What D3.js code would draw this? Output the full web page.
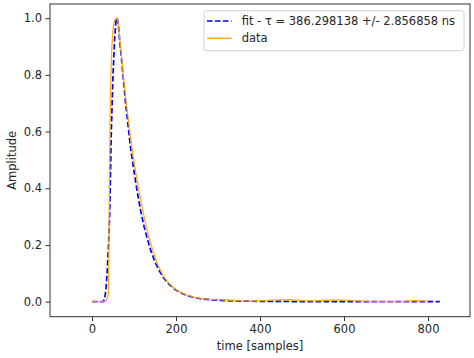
<!DOCTYPE html>
<html>
<head>
<meta charset="utf-8">
<script src="https://cdn.jsdelivr.net/npm/d3@7"></script>
<style>
  html, body { margin: 0; padding: 0; background: #fff; }
  svg { display: block; font-family: "DejaVu Sans", sans-serif; }
</style>
</head>
<body>
<svg id="chart" width="474" height="358"></svg>
<script>
// ---- data ----
const fitX = [0, 10, 20, 27, 30, 33, 36, 39, 42, 46, 50, 54, 57, 60, 63, 66, 70, 75, 80, 86, 92, 100, 108, 116, 124, 132, 140, 150, 160, 170, 180, 195, 210, 225, 240, 260, 280, 300, 330, 360, 400, 450, 500, 560, 620, 680, 740, 800, 828];
const fitY = [0, 0, 0, 0, 0.01, 0.04, 0.1, 0.19, 0.3, 0.6, 0.8, 0.93, 0.99, 1.0, 0.97, 0.92, 0.86, 0.78, 0.70, 0.62, 0.54, 0.46, 0.385, 0.32, 0.265, 0.22, 0.18, 0.14, 0.11, 0.085, 0.066, 0.046, 0.032, 0.022, 0.016, 0.010, 0.007, 0.005, 0.003, 0.002, 0.001, 0.001, 0, 0, 0, 0, 0, 0, 0];

const dataX = [0, 10, 20, 31, 35, 38, 39, 40, 41, 42, 43, 44, 45, 47, 49, 51, 54, 57, 59, 62, 66, 70, 75, 80, 85, 90, 95, 100, 106, 112, 118, 124, 130, 138, 146, 154, 162, 170, 180, 190, 200, 212, 225, 240, 257, 275, 295, 312, 330, 350, 380, 410, 440, 470, 500, 530, 560, 590, 620, 650, 680, 710, 730, 750, 770, 790, 800];
const dataY = [0, 0, 0, 0, 0.008, 0.02, 0.03, 0.15, 0.33, 0.52, 0.64, 0.72, 0.8, 0.89, 0.94, 0.975, 0.993, 1.0, 1.0, 0.985, 0.93, 0.87, 0.79, 0.72, 0.66, 0.60, 0.545, 0.495, 0.44, 0.39, 0.345, 0.30, 0.26, 0.215, 0.175, 0.14, 0.113, 0.09, 0.07, 0.055, 0.043, 0.032, 0.024, 0.017, 0.012, 0.009, 0.007, 0.006, 0.005, 0.004, 0.002, 0.004, 0.006, 0.007, 0.004, 0.003, 0.005, 0.006, 0.004, 0.002, 0.001, 0.0, -0.001, 0.002, 0.004, 0.003, 0.002];

const xTicks = [0, 200, 400, 600, 800];
const yTicks = [0.0, 0.2, 0.4, 0.6, 0.8, 1.0];
const legendLabels = ["fit - \u03c4 = 386.298138 +/- 2.856858 ns", "data"];
const xLabel = "time [samples]";
const yLabel = "Amplitude";

// ---- layout ----
const L = 50, R = 470, T = 4, B = 316.7;
const fontSize = 11.5;
const textColor = "#262626";
const svg = d3.select("#chart");

const x = d3.scaleLinear().domain([-100, 900]).range([L, R]);
const y = d3.scaleLinear().domain([-0.053, 1.05]).range([B, T]);

// axes
const xAxis = svg.append("g").attr("transform", `translate(0,${B})`)
  .call(d3.axisBottom(x).tickValues(xTicks).tickFormat(d3.format("d")).tickSize(4.5).tickPadding(3.5));
const yAxis = svg.append("g").attr("transform", `translate(${L},0)`)
  .call(d3.axisLeft(y).tickValues(yTicks).tickFormat(d3.format(".1f")).tickSize(4.5).tickPadding(3.5));
[xAxis, yAxis].forEach(g => {
  g.select(".domain").remove();
  g.selectAll("line").attr("stroke", "#333").attr("stroke-width", 1);
  g.selectAll("text").attr("fill", textColor).style("font-size", fontSize + "px")
    .style("font-family", "'DejaVu Sans', sans-serif");
});

// lines
const line = d3.line().x(d => x(d[0])).y(d => y(d[1]));
const clip = svg.append("clipPath").attr("id", "clip").append("rect")
  .attr("x", L).attr("y", T).attr("width", R - L).attr("height", B - T);

svg.append("path")
  .datum(fitX.map((v, i) => [v, fitY[i]]))
  .attr("d", line).attr("fill", "none")
  .attr("stroke", "#0000ff").attr("stroke-width", 1.7)
  .attr("stroke-dasharray", "5.5,2.5")
  .attr("clip-path", "url(#clip)");

svg.append("path")
  .datum(dataX.map((v, i) => [v, dataY[i]]))
  .attr("d", line).attr("fill", "none")
  .attr("stroke", "#ffa500").attr("stroke-width", 1.3)
  .attr("stroke-opacity", 0.9)
  .attr("clip-path", "url(#clip)");

// frame
svg.append("rect").attr("x", L).attr("y", T).attr("width", R - L).attr("height", B - T)
  .attr("fill", "none").attr("stroke", "#333").attr("stroke-width", 1);

// axis labels
svg.append("text").attr("x", (L + R) / 2).attr("y", 350)
  .attr("text-anchor", "middle").attr("fill", textColor)
  .style("font-size", fontSize + "px").text(xLabel);
svg.append("text")
  .attr("transform", `translate(16,${(T + B) / 2}) rotate(-90)`)
  .attr("text-anchor", "middle").attr("fill", textColor)
  .style("font-size", fontSize + "px").text(yLabel);

// legend
const lg = svg.append("g");
lg.append("rect").attr("x", 204).attr("y", 10.7).attr("width", 260).attr("height", 40)
  .attr("rx", 2.5).attr("fill", "#fff").attr("fill-opacity", 0.8)
  .attr("stroke", "#d0d0d0").attr("stroke-width", 1);
const legendStyles = [
  { color: "#0000ff", dash: "5.5,2.5", width: 1.7 },
  { color: "#ffa500", dash: null, width: 1.3 }
];
const legendY = [21, 38.3];
legendLabels.forEach((lab, i) => {
  lg.append("line").attr("x1", 207).attr("x2", 231.7)
    .attr("y1", legendY[i]).attr("y2", legendY[i])
    .attr("stroke", legendStyles[i].color).attr("stroke-width", legendStyles[i].width)
    .attr("stroke-dasharray", legendStyles[i].dash);
  lg.append("text").attr("x", 241.7).attr("y", legendY[i]).attr("dy", "0.35em")
    .attr("fill", textColor).style("font-size", fontSize + "px").text(lab);
});
</script>
</body>
</html>
